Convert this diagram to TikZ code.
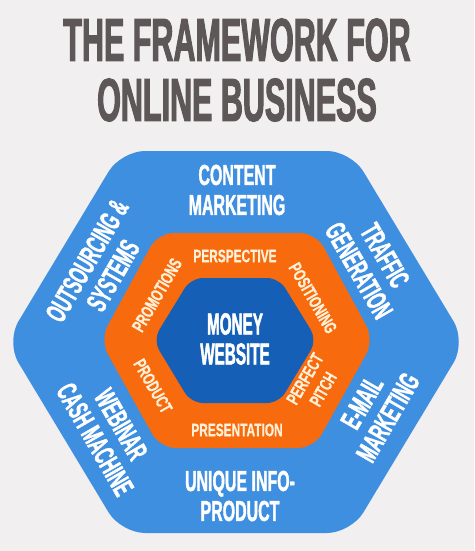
\documentclass[tikz,border=0pt]{standalone}
\usepackage{fontspec}
\setmainfont{Liberation Sans}
\newfontfamily\headfont[FakeStretch=0.50,FakeBold=1.6]{Liberation Sans}
\newfontfamily\ringfont[FakeStretch=0.55,FakeBold=1.2]{Liberation Sans}
\newfontfamily\petalfont[FakeStretch=0.66,FakeBold=0.8]{Liberation Sans}
\definecolor{paper}{HTML}{F1EFEF}
\definecolor{headgray}{HTML}{5E5758}
\definecolor{outerblue}{HTML}{3F8FE0}
\definecolor{ringorange}{HTML}{F86A0E}
\definecolor{coreblue}{HTML}{1560B6}
\definecolor{cream}{HTML}{FFF1D8}
\tikzset{
  headline/.style={text=headgray,align=center,inner sep=0pt,
    font=\headfont\bfseries\fontsize{61}{60}\selectfont},
  outerlabel/.style={text=white,align=center,inner sep=0pt,
    font=\ringfont\bfseries\fontsize{29}{30}\selectfont},
  petal/.style={text=cream,align=center,inner sep=0pt,
    font=\petalfont\bfseries\fontsize{18}{21}\selectfont},
  corelabel/.style={text=white,align=center,inner sep=0pt,
    font=\headfont\bfseries\fontsize{30.5}{30}\selectfont}
}
\begin{document}
\begin{tikzpicture}[x=1pt,y=-1pt]
\fill[paper] (0,0) rectangle (474,551);
\useasboundingbox (0,0) rectangle (474,551);
% the three hexagons
\fill[outerblue,rounded corners=24pt] (236,151) -- (351,151) -- (466,342) -- (351,533) -- (121,533) -- (6,342) -- (121,151) -- cycle;
\fill[ringorange,rounded corners=16pt] (237,233) -- (316,233) -- (374,340) -- (314,448) -- (160,448) -- (100,340) -- (158,233) -- cycle;
\fill[coreblue,rounded corners=12pt] (235,278) -- (279,278) -- (317,340) -- (279,403) -- (191,403) -- (153,340) -- (191,278) -- cycle;
% title
\node[headline] (head) at (237,70) {THE FRAMEWORK FOR\\ONLINE BUSINESS};
% outer ring
\node[outerlabel] (content) at (237,190) {CONTENT\\MARKETING};
\node[outerlabel,rotate=-60] (traffic) at (372,263) {TRAFFIC\\GENERATION};
\node[outerlabel,rotate=60] (email) at (375,410) {E-MAIL\\MARKETING};
\node[outerlabel] (infoprod) at (240,496) {UNIQUE INFO-\\PRODUCT};
\node[outerlabel,rotate=-60] (webinar) at (108,432) {WEBINAR\\CASH MACHINE};
\node[outerlabel,rotate=60] (outsrc) at (100,268) {OUTSOURCING \&\\SYSTEMS};
% orange ring
\node[petal] (persp) at (235,256) {PERSPECTIVE};
\node[petal,rotate=-60] (posit) at (313,298) {POSITIONING};
\node[petal,rotate=60] (pitch) at (314,384) {PERFECT\\PITCH};
\node[petal] (present) at (237,430) {PRESENTATION};
\node[petal,rotate=-60] (product) at (153,386) {PRODUCT};
\node[petal,rotate=60] (promo) at (157,295) {PROMOTIONS};
% core
\node[corelabel] (money) at (235,339) {MONEY\\WEBSITE};
\end{tikzpicture}
\end{document}
